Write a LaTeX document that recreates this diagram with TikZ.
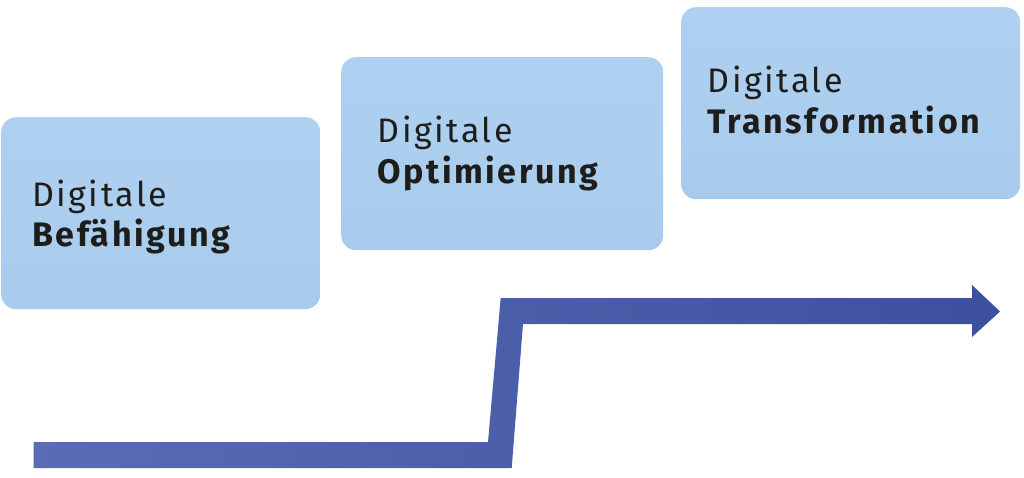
\documentclass[tikz,border=0pt]{standalone}
\usepackage{fontspec}
\setmainfont{Fira Sans}[LetterSpace=7.5]
\usetikzlibrary{calc}
\definecolor{boxblue}{HTML}{A8CBED}
\definecolor{boxblueb}{HTML}{AFD0F0}
\definecolor{arrowL}{HTML}{5A6CB5}
\definecolor{arrowR}{HTML}{3C509F}
\definecolor{ink}{HTML}{1D1D1B}
\begin{document}
\begin{tikzpicture}[x=1pt,y=-1pt,
  box/.style={rectangle, rounded corners=15pt, inner sep=0pt, anchor=north west,
    top color=boxblueb, bottom color=boxblue, draw=none},
  lbl/.style={inner sep=0pt, anchor=base west, text=ink, font=\fontsize{34}{40}\selectfont},
  lblb/.style={lbl, font=\fontsize{34}{40}\selectfont\bfseries}]
\useasboundingbox (0,0) rectangle (1024,478);
\fill[white] (0,0) rectangle (1024,478);
% boxes
\node[box, minimum width=319pt, minimum height=192pt] (b1) at (1,117) {};
\node[box, minimum width=322pt, minimum height=193pt] (b2) at (341,57) {};
\node[box, minimum width=339pt, minimum height=192pt] (b3) at (681,7) {};
% labels
\node[lbl]  (t1a) at (32,207) {Digitale};
\node[lblb] (t1b) at (32,246) {Befähigung};
\node[lbl]  (t2a) at (377.5,143) {Digitale};
\node[lblb] (t2b) at (377.5,184) {Optimierung};
\node[lbl]  (t3a) at (707.5,93) {Digitale};
\node[lblb] (t3b) at (707.5,134) {Transformation};
% step arrow
\shade[left color=arrowL, right color=arrowR]
  (33.5,442) -- (488,442) -- (500.7,298) -- (972,298) -- (972,285)
  -- (1000,311.5) -- (972,337) -- (972,324) -- (523,324)
  -- (511.7,468) -- (33.5,468) -- cycle;
\end{tikzpicture}
\end{document}
